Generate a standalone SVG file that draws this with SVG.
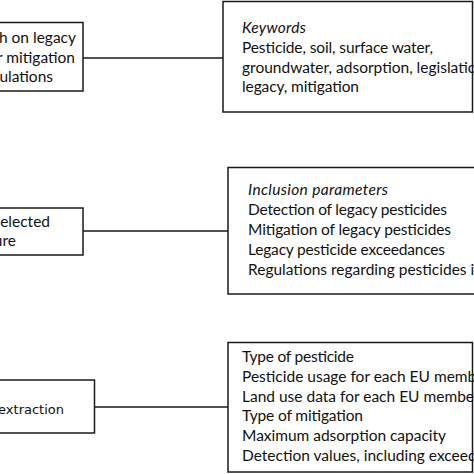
<svg xmlns="http://www.w3.org/2000/svg" width="474" height="474" viewBox="0 0 474 474">
<style>
.box{fill:#fff;stroke:#1a1a1a;stroke-width:1.5}
.t{font-family:Lato,"Liberation Sans",sans-serif;font-size:15.5px;fill:#111}
.i{font-style:italic}
.d{font-family:"DejaVu Sans",Verdana,sans-serif;font-size:13px;fill:#111}
.c{stroke:#1a1a1a;stroke-width:1.5;fill:none}
</style>
<rect width="474" height="474" fill="#fff"/>
<g id="connectors">
<line class="c" x1="83" y1="58" x2="223" y2="58"/>
<line class="c" x1="83" y1="231" x2="228" y2="231"/>
<line class="c" x1="95" y1="407" x2="228" y2="407"/>
</g>
<g id="node-search">
<rect class="box" x="-10" y="22.5" width="93" height="68.5"/>
<text class="t" x="76" y="43" text-anchor="end">h on legacy</text>
<text class="t" x="75" y="63" text-anchor="end">r mitigation</text>
<text class="t" x="53" y="82" text-anchor="end">ulations</text>
</g>
<g id="node-keywords">
<rect class="box" x="223" y="1.5" width="249.5" height="110.5"/>
<text class="t i" x="242" y="33" textLength="64">Keywords</text>
<text class="t" x="242" y="53" textLength="191">Pesticide, soil, surface water,</text>
<text class="t" x="242" y="73">groundwater, adsorption, legislation</text>
<text class="t" x="242" y="92" textLength="117">legacy, mitigation</text>
</g>
<g id="node-selected">
<rect class="box" x="-10" y="208" width="93" height="47"/>
<text class="t" x="50" y="227" text-anchor="end">selected</text>
<text class="t" x="16" y="246" text-anchor="end">ure</text>
</g>
<g id="node-inclusion">
<rect class="box" x="228" y="167.5" width="260" height="126.5"/>
<text class="t i" x="248" y="195" textLength="140">Inclusion parameters</text>
<text class="t" x="248" y="215" textLength="199">Detection of legacy pesticides</text>
<text class="t" x="248" y="235" textLength="203">Mitigation of legacy pesticides</text>
<text class="t" x="248" y="255" textLength="197">Legacy pesticide exceedances</text>
<text class="t" x="248" y="275">Regulations regarding pesticides in</text>
</g>
<g id="node-extraction">
<rect class="box" x="-10" y="380" width="104.5" height="53"/>
<text class="d" x="64" y="414" text-anchor="end">extraction</text>
</g>
<g id="node-data">
<rect class="box" x="228" y="342.5" width="244.5" height="129.5"/>
<text class="t" x="242" y="362" textLength="112">Type of pesticide</text>
<text class="t" x="242" y="382">Pesticide usage for each EU membe</text>
<text class="t" x="242" y="402">Land use data for each EU members</text>
<text class="t" x="242" y="421" textLength="121">Type of mitigation</text>
<text class="t" x="242" y="441" textLength="204">Maximum adsorption capacity</text>
<text class="t" x="242" y="461">Detection values, including exceeda</text>
</g>
</svg>
